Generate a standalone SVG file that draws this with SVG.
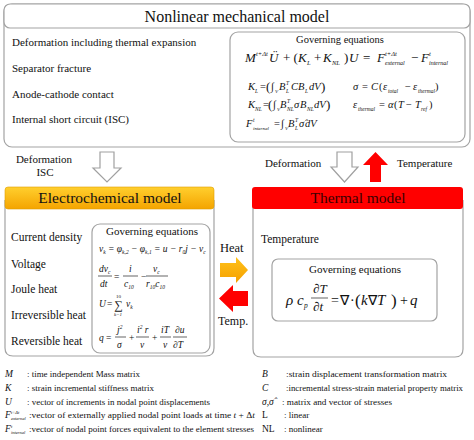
<svg xmlns="http://www.w3.org/2000/svg" width="474" height="440" viewBox="0 0 474 440">
<defs>
<linearGradient id="og" x1="0" y1="0" x2="0" y2="1"><stop offset="0" stop-color="#FFCF2E"/><stop offset="1" stop-color="#F4A400"/></linearGradient>
<linearGradient id="og2" x1="0" y1="0" x2="0" y2="1"><stop offset="0" stop-color="#FFC21A"/><stop offset="1" stop-color="#F5A000"/></linearGradient>
</defs>
<style>
.f{font-family:"Liberation Serif","Times New Roman",serif;fill:#111}
.i{font-style:italic}
.bx{fill:#fff;stroke:#a3a3a3;stroke-width:1.2}
.ha{fill:#fff;stroke:#a0a0a0;stroke-width:1.2}
.m{text-anchor:middle}
.ln{stroke:#222;stroke-width:0.7}
</style>
<rect width="474" height="440" fill="#fff"/>

<g id="mechanical">
<rect class="bx" x="4" y="4" width="466" height="143" rx="8"/>
<rect class="bx" x="4" y="4" width="466" height="24" rx="6"/>
<text class="f m" x="237" y="22" font-size="16">Nonlinear mechanical model</text>
<text class="f" x="12" y="46" font-size="11">Deformation including thermal expansion</text>
<text class="f" x="12" y="72" font-size="11">Separator fracture</text>
<text class="f" x="12" y="98" font-size="11">Anode-cathode contact</text>
<text class="f" x="12" y="123" font-size="11">Internal short circuit (ISC)</text>
<rect class="bx" x="230" y="32" width="235" height="110" rx="8"/>
<text class="f m" x="340" y="43" font-size="10.5">Governing equations</text>
<text class="f i" x="245" y="62" font-size="13">M</text>
<text class="f i" x="256" y="56" font-size="6.5">t+Δt</text>
<text class="f i" x="269" y="62" font-size="13">Ü</text>
<text class="f" x="283" y="62" font-size="13">+ (</text>
<text class="f i" x="298" y="62" font-size="13">K</text>
<text class="f i" x="307" y="65" font-size="6.5">L</text>
<text class="f" x="314" y="62" font-size="13">+</text>
<text class="f i" x="323" y="62" font-size="13">K</text>
<text class="f i" x="332" y="65" font-size="6.5">NL</text>
<text class="f" x="344" y="62" font-size="13">)</text>
<text class="f i" x="349" y="62" font-size="13">U</text>
<text class="f" x="363" y="62" font-size="13">=</text>
<text class="f i" x="377" y="62" font-size="13">F</text>
<text class="f i" x="385" y="56" font-size="6.5">t+Δt</text>
<text class="f i" x="385" y="65" font-size="6">external</text>
<text class="f" x="411" y="62" font-size="13">−</text>
<text class="f i" x="421" y="62" font-size="13">F</text>
<text class="f i" x="429" y="56" font-size="6.5">t</text>
<text class="f i" x="429" y="65" font-size="6">internal</text>
<text class="f i" x="248" y="90" font-size="10.5">K</text>
<text class="f i" x="255" y="92.5" font-size="5.5">L</text>
<text class="f" x="260" y="90" font-size="10.5">=</text>
<text class="f" x="266" y="91" font-size="13">(</text>
<text class="f" x="271" y="90" font-size="10.5">∫</text>
<text class="f i" x="275" y="93" font-size="5">V</text>
<text class="f i" x="279" y="90" font-size="10.5">B</text>
<text class="f i" x="286" y="85" font-size="5.5">T</text>
<text class="f i" x="286" y="92.5" font-size="5.5">L</text>
<text class="f i" x="291" y="90" font-size="10.5">C</text>
<text class="f i" x="298" y="90" font-size="10.5">B</text>
<text class="f i" x="305" y="92.5" font-size="5.5">L</text>
<text class="f i" x="309" y="90" font-size="10.5">dV</text>
<text class="f" x="321" y="91" font-size="13">)</text>
<text class="f i" x="353" y="90" font-size="10.5">σ</text>
<text class="f" x="362" y="90" font-size="10.5">=</text>
<text class="f i" x="371" y="90" font-size="10.5">C</text>
<text class="f" x="379" y="90" font-size="10.5">(</text>
<text class="f i" x="383" y="90" font-size="10.5">ε</text>
<text class="f i" x="388" y="92.5" font-size="5.5">total</text>
<text class="f" x="405" y="90" font-size="10.5">−</text>
<text class="f i" x="413" y="90" font-size="10.5">ε</text>
<text class="f i" x="418" y="92.5" font-size="5.5">thermal</text>
<text class="f" x="435" y="90" font-size="10.5">)</text>
<text class="f i" x="248" y="108" font-size="10.5">K</text>
<text class="f i" x="255" y="110.5" font-size="5.5">NL</text>
<text class="f" x="263" y="108" font-size="10.5">=</text>
<text class="f" x="268" y="109" font-size="13">(</text>
<text class="f" x="273" y="108" font-size="10.5">∫</text>
<text class="f i" x="277" y="111" font-size="5">V</text>
<text class="f i" x="280" y="108" font-size="10.5">B</text>
<text class="f i" x="287" y="103" font-size="5.5">T</text>
<text class="f i" x="287" y="110.5" font-size="5.5">NL</text>
<text class="f i" x="294" y="108" font-size="10.5">σ</text>
<text class="f i" x="300" y="108" font-size="10.5">B</text>
<text class="f i" x="307" y="110.5" font-size="5.5">NL</text>
<text class="f i" x="314" y="108" font-size="10.5">dV</text>
<text class="f" x="326" y="109" font-size="13">)</text>
<text class="f i" x="353" y="108" font-size="10.5">ε</text>
<text class="f i" x="358" y="110.5" font-size="5.5">thermal</text>
<text class="f" x="379" y="108" font-size="10.5">=</text>
<text class="f i" x="388" y="108" font-size="10.5">α</text>
<text class="f" x="394" y="108" font-size="10.5">(</text>
<text class="f i" x="398" y="108" font-size="10.5">T</text>
<text class="f" x="406" y="108" font-size="10.5">−</text>
<text class="f i" x="415" y="108" font-size="10.5">T</text>
<text class="f i" x="421" y="110.5" font-size="5.5">ref</text>
<text class="f" x="429" y="108" font-size="10.5">)</text>
<text class="f i" x="246" y="127" font-size="10.5">F</text>
<text class="f i" x="253" y="122" font-size="5.5">t</text>
<text class="f i" x="253" y="129.5" font-size="5">internal</text>
<text class="f" x="274" y="127" font-size="10.5">=</text>
<text class="f" x="281" y="127" font-size="10.5">∫</text>
<text class="f i" x="285" y="130" font-size="5">V</text>
<text class="f i" x="288" y="127" font-size="10.5">B</text>
<text class="f i" x="295" y="122" font-size="5.5">T</text>
<text class="f i" x="295" y="129.5" font-size="5.5">L</text>
<text class="f i" x="299" y="127" font-size="10.5">σ̂</text>
<text class="f i" x="305" y="127" font-size="10.5">dV</text>
</g>

<g id="electrochemical">
<path class="bx" d="M5,200 V348 Q5,356 13,356 H206 Q214,356 214,348 V200"/>
<rect x="5" y="187" width="209" height="22" rx="3" fill="url(#og)" stroke="#e0a000" stroke-width="0.6"/>
<text class="f m" x="110" y="203" font-size="15.5">Electrochemical model</text>
<text class="f" x="11" y="241" font-size="11.5">Current density</text>
<text class="f" x="11" y="268" font-size="11.5">Voltage</text>
<text class="f" x="11" y="293" font-size="11.5">Joule heat</text>
<text class="f" x="11" y="319" font-size="11.5">Irreversible heat</text>
<text class="f" x="11" y="345" font-size="11.5">Reversible heat</text>
<rect class="bx" x="92" y="224" width="118" height="129" rx="8"/>
<text class="f m" x="152" y="235" font-size="11">Governing equations</text>
<text class="f i" x="99" y="252" font-size="9.5">v<tspan font-size="5.5" dy="2">k</tspan><tspan dy="-2"> = φ</tspan><tspan font-size="5.5" dy="2">k,2</tspan><tspan dy="-2"> − φ</tspan><tspan font-size="5.5" dy="2">k,1</tspan><tspan dy="-2"> = u − r</tspan><tspan font-size="5.5" dy="2">0</tspan><tspan dy="-2">j − v</tspan><tspan font-size="5.5" dy="2">c</tspan></text>
<text class="f i" x="99" y="272" font-size="9.5">dv<tspan font-size="5.5" dy="2">c</tspan></text>
<line class="ln" x1="98" y1="276" x2="112" y2="276"/>
<text class="f i" x="100" y="287" font-size="9.5">dt</text>
<text class="f" x="114" y="279.5" font-size="9.5">=</text>
<text class="f i" x="129" y="272" font-size="9.5">i</text>
<line class="ln" x1="123" y1="276" x2="138" y2="276"/>
<text class="f i" x="124" y="287" font-size="9.5">c<tspan font-size="5.5" dy="2">10</tspan></text>
<text class="f" x="141" y="279.5" font-size="9.5">−</text>
<text class="f i" x="153" y="272" font-size="9.5">v<tspan font-size="5.5" dy="2">c</tspan></text>
<line class="ln" x1="146" y1="276" x2="168" y2="276"/>
<text class="f i" x="146" y="287" font-size="9.5">r<tspan font-size="5.5" dy="2">10</tspan><tspan dy="-2">c</tspan><tspan font-size="5.5" dy="2">10</tspan></text>
<text class="f i" x="99" y="307" font-size="9.5">U</text>
<text class="f" x="107" y="307" font-size="9.5">=</text>
<text class="f" x="114" y="309" font-size="12">∑</text>
<text class="f" x="116" y="298" font-size="5">10</text>
<text class="f i" x="114" y="315.5" font-size="5">k=1</text>
<text class="f i" x="126" y="307" font-size="9.5">v<tspan font-size="5.5" dy="2">k</tspan></text>
<text class="f i" x="99" y="341" font-size="9.5">q</text>
<text class="f" x="106" y="341" font-size="9.5">=</text>
<text class="f i" x="117" y="333" font-size="9.5">j<tspan font-size="5.5" dy="-4">2</tspan></text>
<line class="ln" x1="115" y1="337" x2="126" y2="337"/>
<text class="f i" x="117" y="348" font-size="9.5">σ</text>
<text class="f" x="129" y="341" font-size="9.5">+</text>
<text class="f i" x="137" y="333" font-size="9.5">i<tspan font-size="5.5" dy="-4">2</tspan><tspan dy="4"> r</tspan></text>
<line class="ln" x1="136" y1="337" x2="149" y2="337"/>
<text class="f i" x="140" y="348" font-size="9.5">v</text>
<text class="f" x="152" y="341" font-size="9.5">+</text>
<text class="f i" x="161" y="333" font-size="9.5">iT</text>
<line class="ln" x1="160" y1="337" x2="171" y2="337"/>
<text class="f i" x="163" y="348" font-size="9.5">v</text>
<text class="f i" x="175" y="333" font-size="9.5">∂u</text>
<line class="ln" x1="173" y1="337" x2="187" y2="337"/>
<text class="f i" x="173" y="348" font-size="9.5">∂T</text>
</g>

<g id="thermal">
<path class="bx" d="M253,200 V349 Q253,357 261,357 H455 Q463,357 463,349 V200"/>
<rect x="252" y="187" width="211" height="22" rx="3" fill="#FF0000"/>
<text class="f m" x="358" y="203" font-size="15.5" style="fill:#3a0000">Thermal model</text>
<text class="f" x="261" y="243" font-size="11.5">Temperature</text>
<rect class="bx" x="272" y="259" width="165" height="62" rx="6"/>
<text class="f m" x="355" y="273" font-size="11">Governing equations</text>
<text class="f i" x="286" y="305" font-size="15">ρ</text>
<text class="f i" x="297" y="305" font-size="15">c</text>
<text class="f i" x="304" y="308" font-size="7.5">p</text>
<text class="f i" x="313" y="293" font-size="13">∂T</text>
<line class="ln" x1="311" y1="298" x2="328" y2="298"/>
<text class="f i" x="313" y="311" font-size="13">∂t</text>
<text class="f" x="331" y="305" font-size="14">=</text>
<text class="f" x="340" y="305" font-size="14">∇</text>
<text class="f" x="350" y="305" font-size="14">·</text>
<text class="f" x="355" y="306" font-size="17">(</text>
<text class="f i" x="361" y="305" font-size="15">k</text>
<text class="f" x="368" y="305" font-size="14">∇</text>
<text class="f i" x="377" y="305" font-size="15">T</text>
<text class="f" x="391" y="306" font-size="17">)</text>
<text class="f" x="400" y="305" font-size="14">+</text>
<text class="f i" x="410" y="305" font-size="15">q</text>
</g>

<g id="connectors">
<path class="ha" d="M100,152 H114 V168 H121 L107,182 L93,168 H100 Z"/>
<text class="f m" x="44" y="163" font-size="11">Deformation</text>
<text class="f m" x="45" y="176" font-size="11">ISC</text>
<path class="ha" d="M337,152 H352 V167 H358 L344.5,182 L331,167 H337 Z"/>
<text class="f" x="265" y="167" font-size="11">Deformation</text>
<path d="M375.5,152 L388,165 H381 V182 H370 V165 H363 Z" fill="#FF0000"/>
<text class="f" x="397" y="167" font-size="11">Temperature</text>
<path d="M220,263 H236 V257 L248,270 L236,283 V277 H220 Z" fill="url(#og2)"/>
<text class="f" x="220" y="252" font-size="12.5">Heat</text>
<path d="M248,291 H233 V285 L219,298.5 L233,312 V306 H248 Z" fill="#FF0000"/>
<text class="f" x="218" y="325" font-size="12">Temp.</text>
</g>

<g id="legend">
<text class="f i" x="5" y="377" font-size="9.5">M</text>
<text class="f" x="27" y="377" font-size="9" textLength="113" lengthAdjust="spacingAndGlyphs">: time independent Mass matrix</text>
<text class="f i" x="5" y="391" font-size="9.5">K</text>
<text class="f" x="27" y="391" font-size="9" textLength="127" lengthAdjust="spacingAndGlyphs">: strain incremental stiffness matrix</text>
<text class="f i" x="5" y="404.5" font-size="9.5">U</text>
<text class="f" x="27" y="404.5" font-size="9" textLength="183" lengthAdjust="spacingAndGlyphs">: vector of increments in nodal point displacements</text>
<text class="f i" x="5" y="418" font-size="9.5">F</text>
<text class="f i" x="11" y="414" font-size="4.5">t+Δt</text>
<text class="f i" x="11" y="420" font-size="4.5">external</text>
<text class="f" x="29" y="418" font-size="9" textLength="226" lengthAdjust="spacingAndGlyphs">:vector of externally applied nodal point loads at time <tspan class="i">t</tspan> + Δ<tspan class="i">t</tspan></text>
<text class="f i" x="5" y="432" font-size="9.5">F</text>
<text class="f i" x="11" y="428" font-size="4.5">t</text>
<text class="f i" x="11" y="434" font-size="4.5">internal</text>
<text class="f" x="29" y="432" font-size="9" textLength="225" lengthAdjust="spacingAndGlyphs">:vector of nodal point forces equivalent to the element stresses</text>
<text class="f i" x="262" y="377" font-size="9.5">B</text>
<text class="f" x="286" y="377" font-size="9" textLength="161" lengthAdjust="spacingAndGlyphs">:strain displacement transformation matrix</text>
<text class="f i" x="262" y="391" font-size="9.5">C</text>
<text class="f" x="286" y="391" font-size="9" textLength="177" lengthAdjust="spacingAndGlyphs">:incremental stress-strain material property matrix</text>
<text class="f i" x="262" y="404.5" font-size="9.5">σ,σ̂</text>
<text class="f" x="282" y="404.5" font-size="9" textLength="110" lengthAdjust="spacingAndGlyphs">: matrix and vector of stresses</text>
<text class="f" x="262" y="418" font-size="9.5">L</text>
<text class="f" x="284" y="418" font-size="9">: linear</text>
<text class="f" x="262" y="432" font-size="9.5">NL</text>
<text class="f" x="284" y="432" font-size="9">: nonlinear</text>
</g>
</svg>
